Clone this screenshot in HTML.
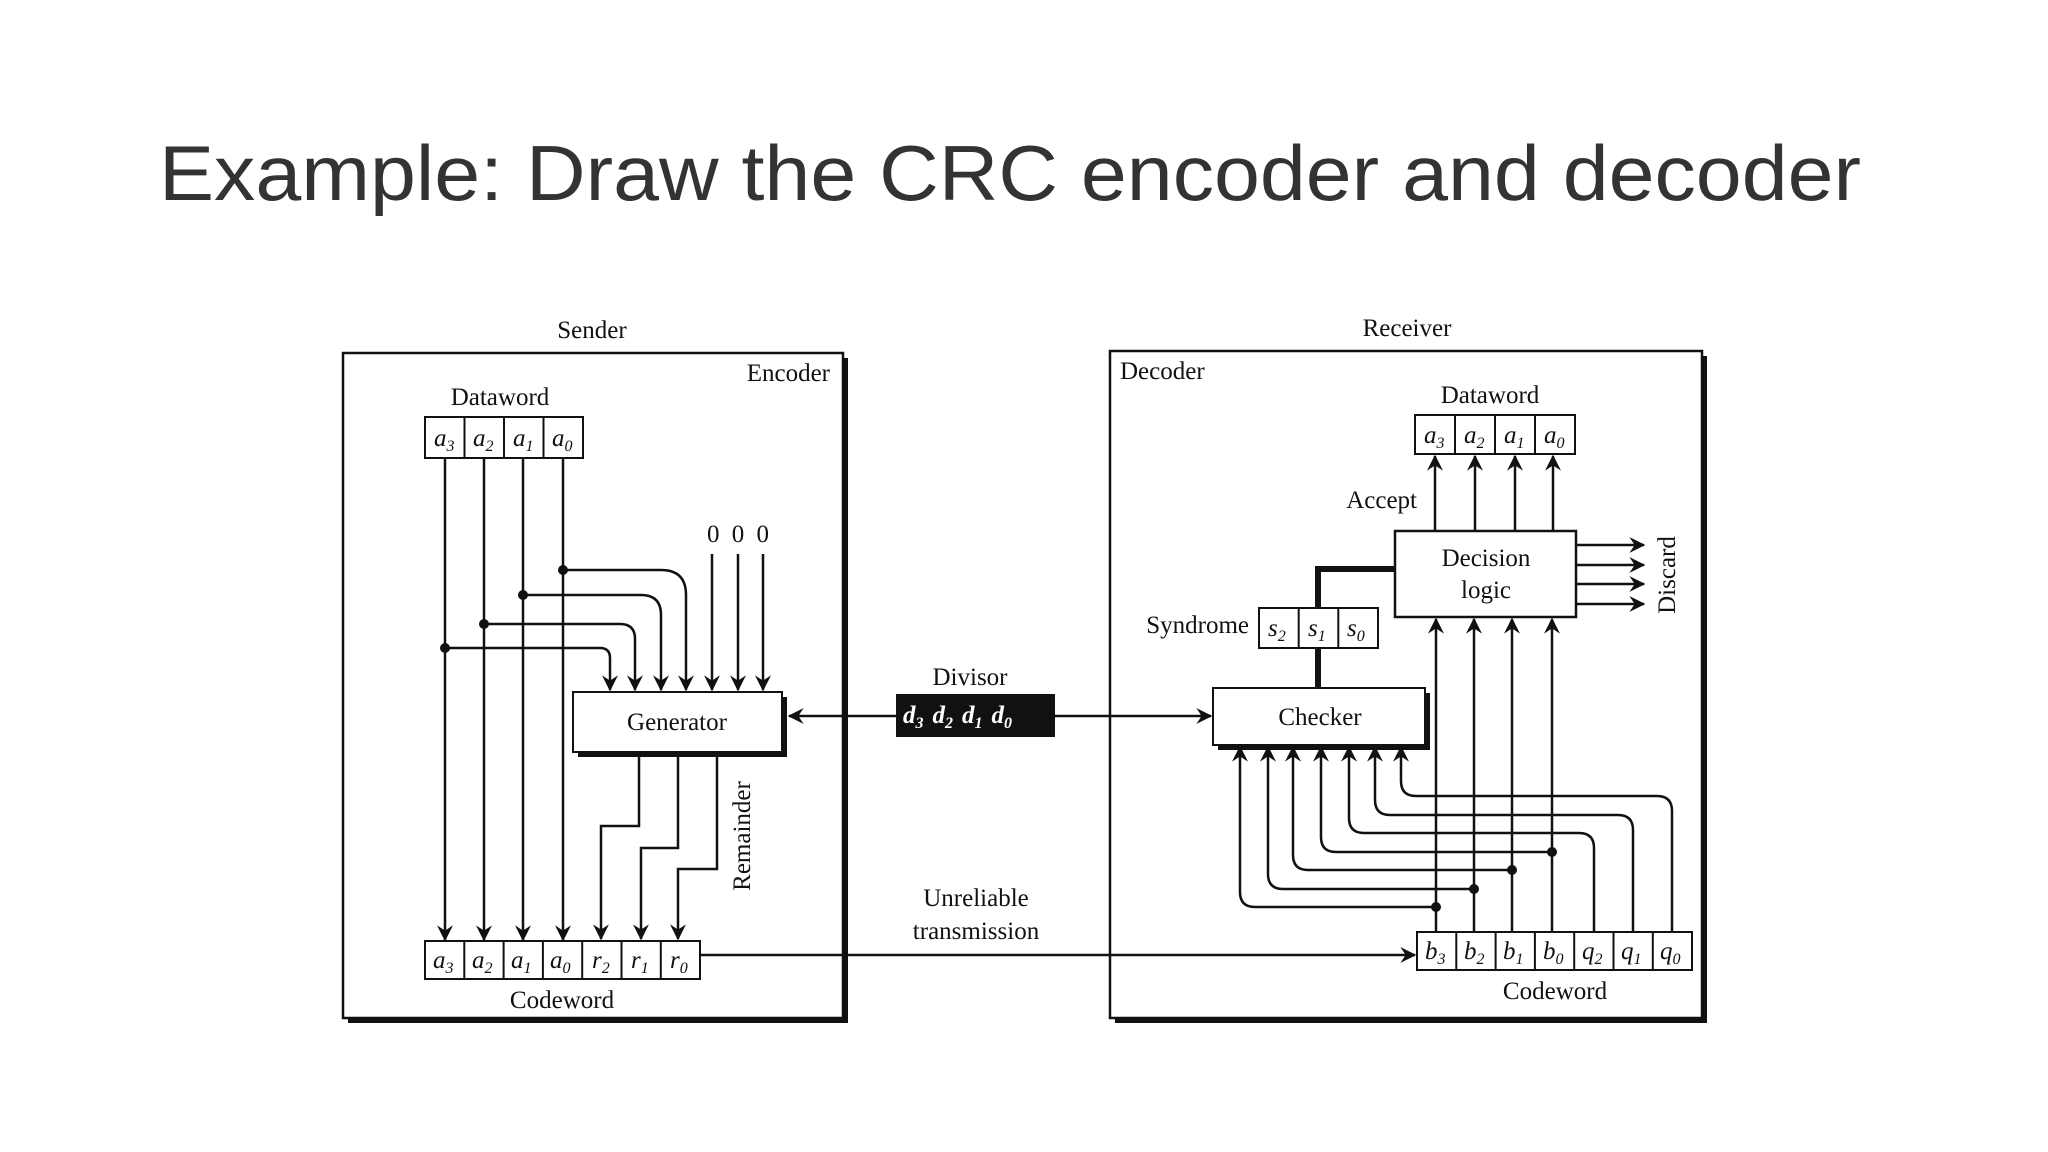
<!DOCTYPE html>
<html><head><meta charset="utf-8"><style>
html,body{margin:0;padding:0;background:#fff;}
svg{display:block}
text{font-family:"Liberation Serif",serif;fill:#111}
.t{font-size:25px}
.i{font-size:25px;font-style:italic}
.s{font-size:16px;font-style:italic}
</style></head><body>
<svg width="2048" height="1152" viewBox="0 0 2048 1152" xmlns="http://www.w3.org/2000/svg">
<defs>
<marker id="ar" viewBox="0 0 12 12" refX="11" refY="6" markerWidth="16" markerHeight="16" markerUnits="userSpaceOnUse" orient="auto">
<path d="M0,0 L12,6 L0,12 L4,6 Z" fill="#111"/></marker>
</defs>
<text x="159" y="200" style="font-family:'Liberation Sans',sans-serif;font-size:78px;fill:#333" textLength="1702" lengthAdjust="spacingAndGlyphs">Example: Draw the CRC encoder and decoder</text>

<g stroke="#111" fill="none" stroke-width="2.5">
<rect x="348" y="358" width="500" height="665" fill="#111" stroke="none"/>
<rect x="343" y="353" width="500" height="665" fill="#fff"/>
<rect x="1115" y="356" width="592" height="667" fill="#111" stroke="none"/>
<rect x="1110" y="351" width="592" height="667" fill="#fff"/>
</g>
<text class="t" x="592" y="338" text-anchor="middle">Sender</text>
<text class="t" x="830" y="381" text-anchor="end">Encoder</text>
<text class="t" x="500" y="405" text-anchor="middle">Dataword</text>
<text class="t" x="1407" y="336" text-anchor="middle">Receiver</text>
<text class="t" x="1120" y="379">Decoder</text>
<text class="t" x="1490" y="403" text-anchor="middle">Dataword</text>

<g stroke="#111" stroke-width="2" fill="#fff">
<rect x="425" y="417" width="158" height="41"/>
<line x1="464.5" y1="417" x2="464.5" y2="458"/><line x1="504" y1="417" x2="504" y2="458"/><line x1="543.5" y1="417" x2="543.5" y2="458"/>
<rect x="425" y="941" width="275" height="38"/>
<line x1="464.3" y1="941" x2="464.3" y2="979"/><line x1="503.6" y1="941" x2="503.6" y2="979"/><line x1="542.9" y1="941" x2="542.9" y2="979"/><line x1="582.2" y1="941" x2="582.2" y2="979"/><line x1="621.5" y1="941" x2="621.5" y2="979"/><line x1="660.8" y1="941" x2="660.8" y2="979"/>
<rect x="1415" y="415" width="160" height="39"/>
<line x1="1455" y1="415" x2="1455" y2="454"/><line x1="1495" y1="415" x2="1495" y2="454"/><line x1="1535" y1="415" x2="1535" y2="454"/>
<rect x="1417" y="932" width="275" height="38"/>
<line x1="1456.3" y1="932" x2="1456.3" y2="970"/><line x1="1495.6" y1="932" x2="1495.6" y2="970"/><line x1="1534.9" y1="932" x2="1534.9" y2="970"/><line x1="1574.2" y1="932" x2="1574.2" y2="970"/><line x1="1613.5" y1="932" x2="1613.5" y2="970"/><line x1="1652.8" y1="932" x2="1652.8" y2="970"/>
<rect x="1259" y="608" width="119" height="40"/>
<line x1="1298.7" y1="608" x2="1298.7" y2="648"/><line x1="1338.3" y1="608" x2="1338.3" y2="648"/>
</g>

<g class="i">
<text class="i" x="434" y="446">a<tspan class="s" dy="5">3</tspan></text>
<text class="i" x="473" y="446">a<tspan class="s" dy="5">2</tspan></text>
<text class="i" x="513" y="446">a<tspan class="s" dy="5">1</tspan></text>
<text class="i" x="552" y="446">a<tspan class="s" dy="5">0</tspan></text>

<text class="i" x="433" y="968">a<tspan class="s" dy="5">3</tspan></text>
<text class="i" x="472" y="968">a<tspan class="s" dy="5">2</tspan></text>
<text class="i" x="511" y="968">a<tspan class="s" dy="5">1</tspan></text>
<text class="i" x="550" y="968">a<tspan class="s" dy="5">0</tspan></text>
<text class="i" x="592" y="968">r<tspan class="s" dy="5">2</tspan></text>
<text class="i" x="631" y="968">r<tspan class="s" dy="5">1</tspan></text>
<text class="i" x="670" y="968">r<tspan class="s" dy="5">0</tspan></text>

<text class="i" x="1424" y="443">a<tspan class="s" dy="5">3</tspan></text>
<text class="i" x="1464" y="443">a<tspan class="s" dy="5">2</tspan></text>
<text class="i" x="1504" y="443">a<tspan class="s" dy="5">1</tspan></text>
<text class="i" x="1544" y="443">a<tspan class="s" dy="5">0</tspan></text>

<text class="i" x="1425" y="959">b<tspan class="s" dy="5">3</tspan></text>
<text class="i" x="1464" y="959">b<tspan class="s" dy="5">2</tspan></text>
<text class="i" x="1503" y="959">b<tspan class="s" dy="5">1</tspan></text>
<text class="i" x="1543" y="959">b<tspan class="s" dy="5">0</tspan></text>
<text class="i" x="1582" y="959">q<tspan class="s" dy="5">2</tspan></text>
<text class="i" x="1621" y="959">q<tspan class="s" dy="5">1</tspan></text>
<text class="i" x="1660" y="959">q<tspan class="s" dy="5">0</tspan></text>

<text class="i" x="1268" y="636">s<tspan class="s" dy="5">2</tspan></text>
<text class="i" x="1308" y="636">s<tspan class="s" dy="5">1</tspan></text>
<text class="i" x="1347" y="636">s<tspan class="s" dy="5">0</tspan></text>
</g>

<text class="t" x="562" y="1008" text-anchor="middle">Codeword</text>
<text class="t" x="1555" y="999" text-anchor="middle">Codeword</text>
<text class="t" x="738" y="542" text-anchor="middle" word-spacing="6">0 0 0</text>

<rect x="578" y="697" width="209" height="60" fill="#111"/>
<rect x="573" y="692" width="209" height="60" fill="#fff" stroke="#111" stroke-width="2"/>
<text class="t" x="677" y="730" text-anchor="middle">Generator</text>
<rect x="1218" y="693" width="212" height="57" fill="#111"/>
<rect x="1213" y="688" width="212" height="57" fill="#fff" stroke="#111" stroke-width="2"/>
<text class="t" x="1320" y="725" text-anchor="middle">Checker</text>
<rect x="1395" y="531" width="181" height="86" fill="#fff" stroke="#111" stroke-width="2.5"/>
<text class="t" x="1486" y="566" text-anchor="middle">Decision</text>
<text class="t" x="1486" y="598" text-anchor="middle">logic</text>

<text class="t" x="970" y="685" text-anchor="middle">Divisor</text>
<rect x="896" y="694" width="159" height="43" fill="#111"/>
<text class="i" x="903" y="723" style="fill:#fff;font-weight:bold">d<tspan class="s" dy="5" style="fill:#fff">3</tspan><tspan dy="-5" dx="9">d</tspan><tspan class="s" dy="5" style="fill:#fff">2</tspan><tspan dy="-5" dx="9">d</tspan><tspan class="s" dy="5" style="fill:#fff">1</tspan><tspan dy="-5" dx="9">d</tspan><tspan class="s" dy="5" style="fill:#fff">0</tspan></text>

<text class="t" x="976" y="906" text-anchor="middle">Unreliable</text>
<text class="t" x="976" y="939" text-anchor="middle">transmission</text>
<text class="t" transform="translate(750,836) rotate(-90)" text-anchor="middle">Remainder</text>
<text class="t" x="1417" y="508" text-anchor="end">Accept</text>
<text class="t" x="1249" y="633" text-anchor="end">Syndrome</text>
<text class="t" transform="translate(1675,575) rotate(-90)" text-anchor="middle">Discard</text>

<g stroke="#111" stroke-width="2.5" fill="none" marker-end="url(#ar)">
<line x1="445" y1="458" x2="445" y2="940"/>
<line x1="484" y1="458" x2="484" y2="940"/>
<line x1="523" y1="458" x2="523" y2="940"/>
<line x1="563" y1="458" x2="563" y2="940"/>
<path d="M445,648 H600 Q610,648 610,658 V690"/>
<path d="M484,624 H620 Q635,624 635,639 V690"/>
<path d="M523,595 H641 Q661,595 661,615 V690"/>
<path d="M563,570 H661 Q686,570 686,595 V690"/>
<line x1="712" y1="554" x2="712" y2="690"/>
<line x1="738" y1="554" x2="738" y2="690"/>
<line x1="763" y1="554" x2="763" y2="690"/>
<path d="M639,757 V826 H601 V939"/>
<path d="M678,757 V848 H641 V939"/>
<path d="M717,757 V869 H678 V939"/>
<line x1="896" y1="716" x2="789" y2="716"/>
<line x1="1055" y1="716" x2="1211" y2="716"/>
<line x1="700" y1="955" x2="1415" y2="955"/>
<line x1="1435" y1="531" x2="1435" y2="456"/>
<line x1="1475" y1="531" x2="1475" y2="456"/>
<line x1="1515" y1="531" x2="1515" y2="456"/>
<line x1="1553" y1="531" x2="1553" y2="456"/>
<line x1="1576" y1="545" x2="1644" y2="545"/>
<line x1="1576" y1="565" x2="1644" y2="565"/>
<line x1="1576" y1="584" x2="1644" y2="584"/>
<line x1="1576" y1="604" x2="1644" y2="604"/>
<line x1="1436" y1="932" x2="1436" y2="619"/>
<line x1="1474" y1="932" x2="1474" y2="619"/>
<line x1="1512" y1="932" x2="1512" y2="619"/>
<line x1="1552" y1="932" x2="1552" y2="619"/>
<path d="M1436,907 H1255 Q1240,907 1240,892 V747"/>
<path d="M1474,889 H1283 Q1268,889 1268,874 V747"/>
<path d="M1512,870 H1308 Q1293,870 1293,855 V747"/>
<path d="M1552,852 H1336 Q1321,852 1321,837 V747"/>
<path d="M1594,932 V848 Q1594,833 1579,833 H1364 Q1349,833 1349,818 V747"/>
<path d="M1633,932 V830 Q1633,815 1618,815 H1390 Q1375,815 1375,800 V747"/>
<path d="M1672,932 V811 Q1672,796 1657,796 H1416 Q1401,796 1401,781 V747"/>
</g>
<g fill="#111">
<circle cx="445" cy="648" r="5"/><circle cx="484" cy="624" r="5"/><circle cx="523" cy="595" r="5"/><circle cx="563" cy="570" r="5"/>
<circle cx="1436" cy="907" r="5"/><circle cx="1474" cy="889" r="5"/><circle cx="1512" cy="870" r="5"/><circle cx="1552" cy="852" r="5"/>
</g>
<g stroke="#111" stroke-width="6" fill="none">
<path d="M1395,569 H1318 V608"/>
<line x1="1318" y1="648" x2="1318" y2="688"/>
</g>
</svg>
</body></html>
